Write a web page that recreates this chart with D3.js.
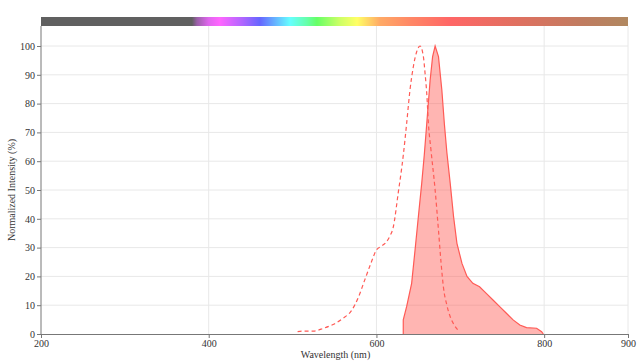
<!DOCTYPE html>
<html>
<head>
<meta charset="utf-8">
<script src="https://cdn.jsdelivr.net/npm/d3@7"></script>
<style>
  html, body { margin: 0; padding: 0; background: #fff; }
  svg { display: block; }
  text { font-family: "Liberation Serif", "Times New Roman", serif; }
</style>
</head>
<body>
<svg id="chart" width="640" height="364"></svg>
<script>
// ---- data ----
const xTickValues = [200, 400, 600, 800, 900];
const yTickValues = [0, 10, 20, 30, 40, 50, 60, 70, 80, 90, 100];

const exWavelength = [506, 512, 525, 537, 549, 560, 570, 578, 586, 594, 600, 606, 612, 616, 620, 626, 632, 636, 640, 644, 648, 652, 656, 658, 660, 662, 665, 670, 674, 677, 680, 684, 688, 693, 699];
const exIntensity  = [0.8, 1, 1, 2, 3.4, 5.4, 8, 12.4, 18.7, 25, 29.2, 30.5, 32, 34, 37, 49, 62, 73, 84.7, 92.8, 98, 100, 96.3, 90.5, 83.6, 73, 64, 50, 36, 25, 16, 10, 6, 3, 0.8];

const emWavelength = [632, 632, 636, 642, 646, 650, 654, 657, 660, 664, 667, 670, 674, 678, 681, 684, 688, 692, 696, 702, 708, 715, 723, 731, 739, 747, 755, 763, 771, 779, 791, 797, 799];
const emIntensity  = [0, 4.9, 9.5, 17.6, 29, 40.7, 52.3, 62, 73, 88, 96.3, 100, 96.3, 84.7, 73, 63, 52.3, 40.7, 31.5, 24.5, 20, 17.6, 16.4, 14.1, 11.8, 9.5, 7.2, 4.9, 3.1, 2.2, 2, 0.8, 0];

const barWavelength = [200, 380, 386, 400, 413, 440, 461, 477, 497, 517, 529, 556, 577, 604, 640, 688, 767, 846, 900];
const barColors = ['#606060','#606060','#9a60a8','#e066ee','#ff66ff','#b066ff','#6666ff','#66aaff','#66ffff','#66ffaa','#66ff66','#ccff66','#ffff66','#ffaa66','#ff8866','#ff6666','#e07060','#c07c60','#b08860'];

// ---- layout ----
const svg = d3.select('#chart');
const pLeft = 41, pRight = 628, pTop = 26, pBottom = 334;

const x = d3.scaleLinear().domain([200, 900]).range([pLeft, pRight]);
const y = d3.scaleLinear().domain([0, 100]).range([pBottom, pBottom - 288]);

const lineColor = '#ff5a55';

// grid
svg.append('g').selectAll('line').data(yTickValues.filter(d => d > 0)).join('line')
  .attr('x1', pLeft).attr('x2', pRight)
  .attr('y1', d => y(d)).attr('y2', d => y(d))
  .attr('stroke', '#e8e8e8').attr('stroke-width', 1);
svg.append('g').selectAll('line').data(xTickValues.filter(d => d > 200)).join('line')
  .attr('x1', d => x(d)).attr('x2', d => x(d))
  .attr('y1', pTop).attr('y2', pBottom)
  .attr('stroke', '#e8e8e8').attr('stroke-width', 1);

// color bar
const defs = svg.append('defs');
const grad = defs.append('linearGradient').attr('id', 'spec')
  .attr('gradientUnits', 'userSpaceOnUse')
  .attr('x1', x(200)).attr('x2', x(900)).attr('y1', 0).attr('y2', 0);
grad.selectAll('stop').data(barWavelength).join('stop')
  .attr('offset', d => (x(d) - x(200)) / (x(900) - x(200)))
  .attr('stop-color', (d, i) => barColors[i]);
svg.append('rect')
  .attr('x', x(200)).attr('y', 17).attr('width', x(900) - x(200)).attr('height', pTop - 17)
  .attr('fill', 'url(#spec)');

// emission area
const em = emWavelength.map((w, i) => [w, emIntensity[i]]);
const ex = exWavelength.map((w, i) => [w, exIntensity[i]]);

svg.append('path').datum(em)
  .attr('d', d3.area().x(d => x(d[0])).y0(y(0)).y1(d => y(d[1])))
  .attr('fill', 'rgba(255,90,85,0.45)');
svg.append('path').datum(em)
  .attr('d', d3.line().x(d => x(d[0])).y(d => y(d[1])))
  .attr('fill', 'none').attr('stroke', lineColor).attr('stroke-width', 1.2);

// excitation dashed
svg.append('path').datum(ex)
  .attr('d', d3.line().curve(d3.curveMonotoneX).x(d => x(d[0])).y(d => y(d[1])))
  .attr('fill', 'none').attr('stroke', lineColor).attr('stroke-width', 1.2)
  .attr('stroke-dasharray', '4,3');

// axes
const xAxis = svg.append('g').attr('transform', `translate(0,${pBottom})`)
  .call(d3.axisBottom(x).tickValues(xTickValues).tickSize(4).tickSizeOuter(0).tickPadding(2));
const yAxis = svg.append('g').attr('transform', `translate(${pLeft},0)`)
  .call(d3.axisLeft(y).tickValues(yTickValues).tickSize(4).tickSizeOuter(0).tickPadding(2));
[xAxis, yAxis].forEach(g => {
  g.select('.domain').attr('stroke', '#777');
  g.selectAll('.tick line').attr('stroke', '#777');
  g.selectAll('.tick text').attr('fill', '#333').style('font-size', '10px')
    .style('font-family', '"Liberation Serif", serif');
});
yAxis.select('.domain').attr('d', `M0,${pTop}V${pBottom}`);

// axis titles
svg.append('text').attr('x', (pLeft + pRight) / 2 + 1).attr('y', 358)
  .attr('text-anchor', 'middle').attr('fill', '#333').style('font-size', '10px')
  .text('Wavelength (nm)');
svg.append('text').attr('transform', `translate(15,${(pTop + pBottom) / 2 + 10}) rotate(-90)`)
  .attr('text-anchor', 'middle').attr('fill', '#333').style('font-size', '10px')
  .text('Normalized Intensity (%)');
</script>
</body>
</html>
